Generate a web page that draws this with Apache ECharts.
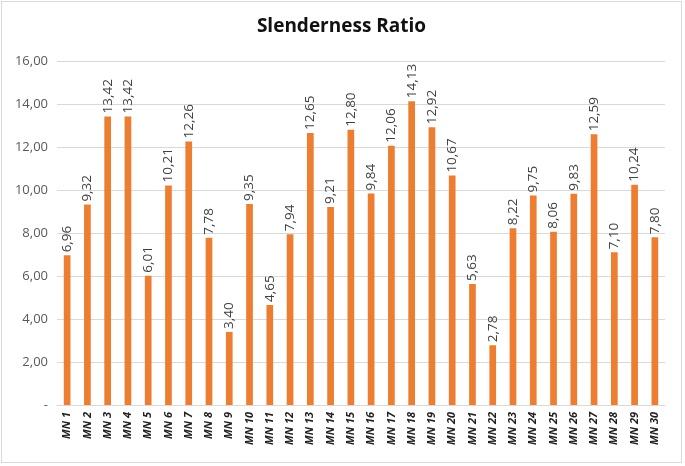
<!DOCTYPE html>
<html>
<head>
<meta charset="utf-8">
<script src="https://cdn.jsdelivr.net/npm/echarts@6/dist/echarts.min.js"></script>
<style>
  html, body { margin: 0; padding: 0; background: #fff; }
  #chart { width: 681px; height: 462px; margin: 1px; border: 1px solid #d9d9d9; box-sizing: border-box; }
</style>
</head>
<body>
<div id="chart"></div>
<script>
// member labels
const members = [
  'MN 1', 'MN 2', 'MN 3', 'MN 4', 'MN 5', 'MN 6', 'MN 7', 'MN 8', 'MN 9', 'MN 10',
  'MN 11', 'MN 12', 'MN 13', 'MN 14', 'MN 15', 'MN 16', 'MN 17', 'MN 18', 'MN 19', 'MN 20',
  'MN 21', 'MN 22', 'MN 23', 'MN 24', 'MN 25', 'MN 26', 'MN 27', 'MN 28', 'MN 29', 'MN 30'
]
const slenderness = [
  6.96, 9.32, 13.42, 13.42, 6.01, 10.21, 12.26, 7.78, 3.40, 9.35,
  4.65, 7.94, 12.65, 9.21, 12.80, 9.84, 12.06, 14.13, 12.92, 10.67,
  5.63, 2.78, 8.22, 9.75, 8.06, 9.83, 12.59, 7.10, 10.24, 7.80
]

const fmt = v => v === 0 ? '-' : v.toFixed(2).replace('.', ',')

const chart = echarts.init(document.getElementById('chart'))
chart.setOption({
  animation: false,
  textStyle: { fontFamily: 'Open Sans' },
  title: {
    text: 'Slenderness Ratio',
    left: 'center',
    top: 10,
    textStyle: { fontSize: 19, fontWeight: 'bold', color: '#111', fontFamily: 'Open Sans' }
  },
  grid: { left: 55, right: 16, top: 59, bottom: 57 },
  xAxis: {
    type: 'category',
    data: members,
    axisTick: { show: false },
    axisLine: { lineStyle: { color: '#d9d9d9' } },
    axisLabel: {
      rotate: 90,
      interval: 0,
      fontSize: 11,
      fontWeight: 'bold',
      fontStyle: 'italic',
      color: '#222',
      margin: 7
    }
  },
  yAxis: {
    type: 'value',
    min: 0,
    max: 16,
    interval: 2,
    axisLine: { show: false },
    axisTick: { show: false },
    splitLine: { lineStyle: { color: '#d9d9d9' } },
    axisLabel: { fontSize: 13, color: '#595959', margin: 9, formatter: fmt }
  },
  series: [{
    type: 'bar',
    data: slenderness,
    barWidth: '33%',
    itemStyle: { color: '#ED7D31' },
    label: {
      show: true,
      position: 'top',
      rotate: 90,
      align: 'left',
      verticalAlign: 'middle',
      distance: 3,
      fontSize: 13.5,
      color: '#404040',
      formatter: p => fmt(p.value)
    }
  }]
})
</script>
</body>
</html>
